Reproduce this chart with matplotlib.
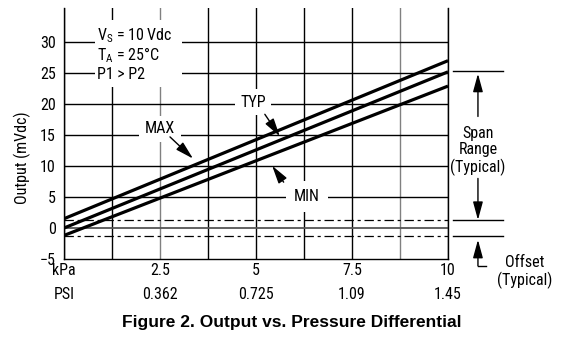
import matplotlib
matplotlib.use("Agg")
import matplotlib.pyplot as plt
from matplotlib.patches import Rectangle

# ---- data ----
pressure_kpa = [0, 10]
max_out = [1.5, 27.0]
typ_out = [0.0, 25.2]
min_out = [-1.2, 22.9]
offset_band = [1.25, -1.3]
kpa_ticks = [0, 2.5, 5, 7.5, 10]
kpa_labels = ['kPa', '2.5', '5', '7.5', '10']
psi_labels = ['PSI', '0.362', '0.725', '1.09', '1.45']
y_ticks = [-5, 0, 5, 10, 15, 20, 25, 30]
v_grid = [0, 1.25, 2.5, 3.75, 5, 6.25, 7.5, 8.75, 10]
v_grid_gray = [2.5, 8.75]
h_grid = [5, 10, 15, 20, 25, 30]

plt.rcParams['font.family'] = ['Roboto Condensed', 'Liberation Sans', 'DejaVu Sans']
plt.rcParams['mathtext.default'] = 'regular'

fig = plt.figure(figsize=(5.68, 3.52), dpi=100)
ax = fig.add_axes([64/568, 1-259/352, 384/568, 251/352])
ax.set_xlim(0, 10)
ax.set_ylim(-5, 35.5)

FS = 11.5

# grid
for x in v_grid:
    c = '#808080' if x in v_grid_gray else 'black'
    ax.axvline(x, color=c, lw=1.0, zorder=1)
for y in h_grid:
    ax.axhline(y, color='black', lw=1.0, zorder=1)
ax.axhline(0, color='#555555', lw=1.3, zorder=1)
for y in offset_band:
    ax.plot([0, 10], [y, y], color='black', lw=0.9, dashes=(7.5, 3, 2.5, 3), zorder=1)

ax.spines['top'].set_visible(False)
for s in ['left', 'right', 'bottom']:
    ax.spines[s].set_linewidth(1.0)

# main lines
for ser in (max_out, typ_out, min_out):
    ax.plot(pressure_kpa, ser, color='black', lw=2.3, solid_capstyle='butt', zorder=4)

# ticks
ax.set_yticks(y_ticks)
ax.set_yticklabels(['\u22125' if v < 0 else str(v) for v in y_ticks], fontsize=FS)
ax.set_xticks(kpa_ticks)
ax.set_xticklabels([f'{a}\n{b}' for a, b in zip(kpa_labels, psi_labels)], fontsize=FS)
for lab in ax.get_xticklabels():
    lab.set_linespacing(1.75)
ax.tick_params(axis='both', length=0)
ax.tick_params(axis='y', pad=6)
ax.tick_params(axis='x', pad=3)

ax.set_ylabel('Output (mVdc)', fontsize=FS)
ax.yaxis.set_label_coords(-0.085, 0.405)

# condition text box
ax.add_patch(Rectangle((0.81, 22.8), 2.26, 10.7, facecolor='white', edgecolor='none', zorder=2))
ax.text(0.86, 31.1, 'V$_S$ = 10 Vdc', fontsize=FS, va='center', ha='left', zorder=3)
ax.text(0.86, 27.9, 'T$_A$ = 25°C', fontsize=FS, va='center', ha='left', zorder=3)
ax.text(0.86, 24.7, 'P1 > P2', fontsize=FS, va='center', ha='left', zorder=3)

arrow = dict(arrowstyle='-|>,head_length=1.1,head_width=0.3', color='black', lw=1.0,
             mutation_scale=10, shrinkA=0, shrinkB=0)
box = dict(facecolor='white', edgecolor='none', pad=4)

ax.annotate('', xy=(3.36, 11.2), xytext=(2.76, 14.7), arrowprops=arrow, zorder=5)
ax.text(2.5, 16.0, 'MAX', fontsize=FS, ha='center', va='center', bbox=box, zorder=3)
ax.annotate('', xy=(5.62, 14.8), xytext=(5.23, 18.35), arrowprops=arrow, zorder=5)
ax.text(4.92, 20.3, 'TYP', fontsize=FS, ha='center', va='center', bbox=box, zorder=3)
ax.annotate('', xy=(5.42, 10.05), xytext=(5.72, 7.4), arrowprops=arrow, zorder=5)
ax.text(6.33, 5.1, 'MIN', fontsize=FS, ha='center', va='center',
        bbox=dict(facecolor='white', edgecolor='none', pad=6), zorder=3)

# span / offset annotations outside the axes
xm0, xm1, xa = 10.13, 11.43, 10.78
ax.plot([xm0, xm1], [typ_out[1] + 0.1, typ_out[1] + 0.1], color='black', lw=1.0, clip_on=False)
for y in offset_band:
    ax.plot([xm0, xm1], [y, y], color='black', lw=1.0, clip_on=False)
ax.annotate('', xy=(xa, 24.9), xytext=(xa, 18.0), arrowprops=arrow, annotation_clip=False)
ax.annotate('', xy=(xa, 1.3), xytext=(xa, 8.0), arrowprops=arrow, annotation_clip=False)
ax.annotate('', xy=(xa, -1.9), xytext=(xa, -6.1), arrowprops=arrow, annotation_clip=False)
ax.plot([xa, 10.98], [-6.1, -6.1], color='black', lw=1.0, clip_on=False)
ax.text(xa, 12.4, 'Span\nRange\n(Typical)', fontsize=FS, ha='center', va='center',
        linespacing=1.1, clip_on=False)
ax.text(12.0, -7.1, 'Offset\n(Typical)', fontsize=FS, ha='center', va='center',
        linespacing=1.1, clip_on=False)

fig.text(292/568, 1-322/352, 'Figure 2. Output vs. Pressure Differential',
         fontsize=12.5, fontweight='bold', family='Liberation Sans', ha='center', va='center')

fig.savefig('out.png', dpi=100)
